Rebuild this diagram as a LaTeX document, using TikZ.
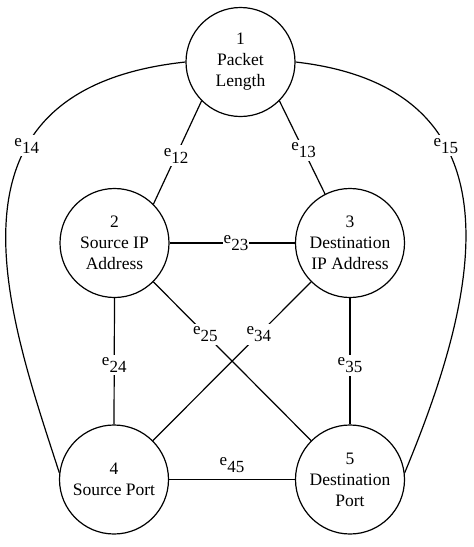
\documentclass[tikz,border=0pt]{standalone}
\usepackage{fontspec}
\setmainfont{Liberation Serif}
\newcommand{\elab}[1]{e\raisebox{-0.4em}{#1}}

\begin{document}
\begin{tikzpicture}[x=1pt,y=-1pt,line width=1.2pt,
		vertex/.style={circle,draw,minimum size=109pt,inner sep=0pt,align=center,font=\fontsize{17.5}{21}\selectfont},
		elabel/.style={fill=white,inner xsep=0.5pt,inner ysep=3pt,font=\fontsize{17}{19}\selectfont}]
	\useasboundingbox (0,0) rectangle (474,547);

	\node[vertex] (n1) at (240.5,62) {1\\Packet\\Length};
	\node[vertex] (n2) at (114.5,243) {2\\Source IP\\Address};
	\node[vertex] (n3) at (350,243) {3\\Destination\\IP Address};
	\node[vertex] (n4) at (114,479.5) {4\\Source Port};
	\node[vertex] (n5) at (350,479.5) {5\\Destination\\Port};

	\path[draw] (n1.south west) -- node[elabel,pos=0.53] {\elab{12}} (n2.north east);
	\path[draw] (n1.south east) -- node[elabel,pos=0.53] {\elab{13}} (n3.117);
	\path[draw] (n2.east) -- node[elabel,pos=0.53] {\elab{23}} (n3.west);
	\path[draw] (n2.south) -- node[elabel,pos=0.53] {\elab{24}} (n4.north);
	\path[draw] (n3.south) -- node[elabel,pos=0.53] {\elab{35}} (n5.north);
	\path[draw] (n2.south east) -- node[elabel,pos=0.33] {\elab{25}} (n5.north west);
	\path[draw] (n3.south west) -- node[elabel,pos=0.33] {\elab{34}} (n4.north east);
	\path[draw] (n4.east) -- node[elabel,above=3pt] {\elab{45}} (n5.west);

	% outer curves
	\path[draw] (n1.west) .. controls (-75,90) and (10,320) .. node[elabel,pos=0.33] {\elab{14}} (n4.173);
	\path[draw] (n1.east) .. controls (540,90) and (468,320) .. node[elabel,pos=0.33] {\elab{15}} (n5.7);
\end{tikzpicture}
\end{document}
